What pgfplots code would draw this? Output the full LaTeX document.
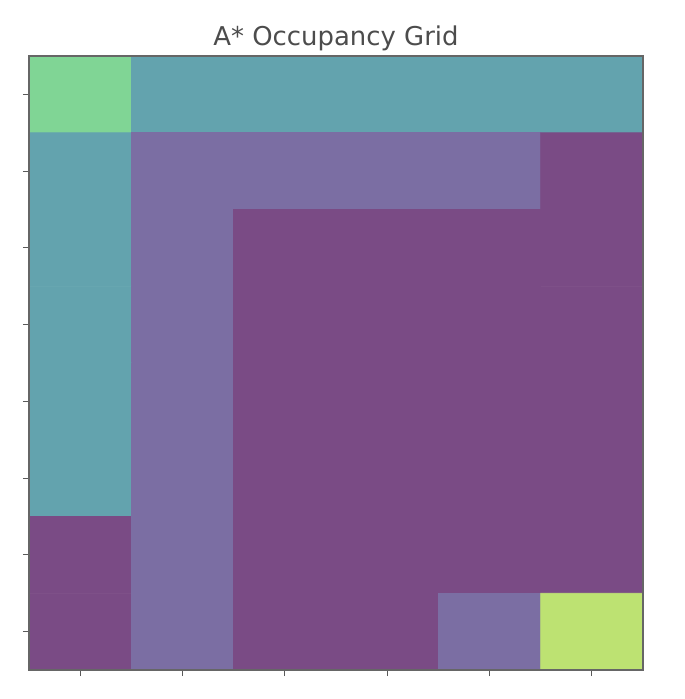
\documentclass[border=0pt]{standalone}
\usepackage{pgfplots}
\pgfplotsset{compat=1.18}
\usepackage{pgfplotstable}
\usepackage{fontspec}
\setmainfont{DejaVu Sans}

% occupancy grid, row 0 at the top; x varies fastest
\pgfplotstableread{
x y c
0 0 3
1 0 2
2 0 2
3 0 2
4 0 2
5 0 2
0 1 2
1 1 1
2 1 1
3 1 1
4 1 1
5 1 0
0 2 2
1 2 1
2 2 0
3 2 0
4 2 0
5 2 0
0 3 2
1 3 1
2 3 0
3 3 0
4 3 0
5 3 0
0 4 2
1 4 1
2 4 0
3 4 0
4 4 0
5 4 0
0 5 2
1 5 1
2 5 0
3 5 0
4 5 0
5 5 0
0 6 0
1 6 1
2 6 0
3 6 0
4 6 0
5 6 0
0 7 0
1 7 1
2 7 0
3 7 0
4 7 1
5 7 4
}\gridtable

\begin{document}
\begin{tikzpicture}
\path[use as bounding box] (-29bp,-29bp) rectangle (656bp,670bp);
\begin{axis}[
    at={(0,0)}, anchor=south west,
    scale only axis,
    width=614bp, height=614bp,
    xmin=-0.5, xmax=5.5,
    ymin=-0.5, ymax=7.5,
    y dir=reverse,
    enlargelimits=false,
    xtick={0,...,5}, ytick={0,...,7},
    xticklabels={}, yticklabels={},
    xtick pos=bottom, ytick pos=left,
    tick align=outside,
    major tick length=6bp,
    tick style={color=black!65, line width=1pt},
    axis line style={color=black!60, line width=1.1pt},
    axis on top,
    colormap={occ}{rgb255=(122,75,133) rgb255=(123,110,163) rgb255=(99,163,174) rgb255=(128,213,149) rgb255=(189,226,114)},
    point meta min=0, point meta max=4,
    title={A* Occupancy Grid},
    title style={at={(0.5,1)}, anchor=base, yshift=5bp,
        font=\fontsize{26}{30}\selectfont, text=black!70},
]
\addplot[matrix plot, mesh/cols=6, mesh/rows=8, point meta=explicit,
    shader=faceted, faceted color=mapped color, line width=0.6pt]
    table[x=x, y=y, meta=c] {\gridtable};
\end{axis}
\end{tikzpicture}
\end{document}
